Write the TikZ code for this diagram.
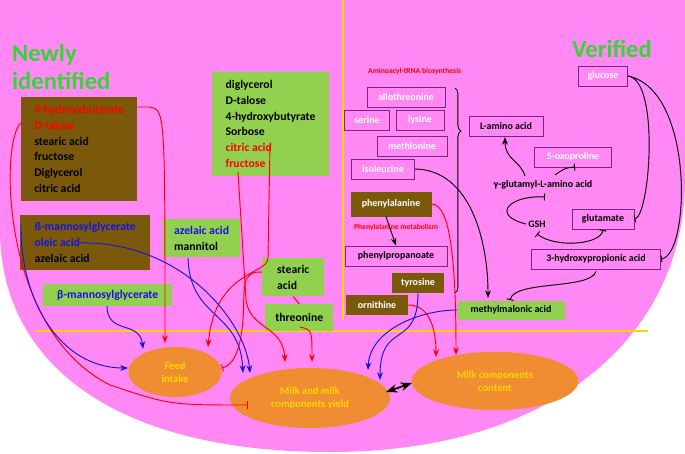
\documentclass[tikz,border=0pt]{standalone}
\usepackage{fontspec}
\setmainfont{Carlito}
\usetikzlibrary{arrows.meta,decorations.pathreplacing,shapes.geometric}
\definecolor{bgpink}{RGB}{255,136,245}
\definecolor{boxbrown}{RGB}{122,90,10}
\definecolor{boxgreen}{RGB}{146,208,80}
\definecolor{edgepurple}{RGB}{120,40,130}
\definecolor{lnblue}{RGB}{20,20,220}
\definecolor{lnyellow}{RGB}{255,215,0}
\definecolor{ellorange}{RGB}{240,140,50}
\definecolor{newgreen}{RGB}{50,215,50}
\begin{document}
\begin{tikzpicture}[x=0.03cm,y=-0.03cm,font=\bfseries,
	brownbox/.style={fill=boxbrown,anchor=north west,align=left,inner sep=2pt,font=\bfseries\fontsize{10}{13.5}\selectfont},
	greenbox/.style={fill=boxgreen,anchor=north west,align=left,inner sep=2pt,font=\bfseries\fontsize{10}{13.5}\selectfont},
	pinkbox/.style={draw=edgepurple,thick,fill=bgpink,text=white,inner sep=2pt,minimum height=0.6cm,font=\bfseries\fontsize{8.5}{10}\selectfont},
	effect/.style={ellipse,fill=ellorange,text=lnyellow,align=center,font=\bfseries\fontsize{9}{11}\selectfont},
	tag/.style={text=red,font=\bfseries\fontsize{6.5}{8}\selectfont},
	>=Stealth, bar/.style={-{Bar[width=6pt]}}]
	\useasboundingbox (0,0) rectangle (685,453);
	% background
	\fill[bgpink] (0,0) -- (685,0) -- (685,180) .. controls (685,330) and (560,452) .. (330,452)
		.. controls (110,452) and (0,360) .. (0,230) -- cycle;
	\draw[lnyellow,line width=1.2pt] (343,0) -- (343,320);
	\draw[lnyellow,line width=1.2pt] (35,331) -- (648,331);
	
	\node[text=newgreen,anchor=north west,align=left,font=\bfseries\fontsize{21}{24}\selectfont] (newly) at (8,40) {Newly\\identified};
	\node[text=newgreen,anchor=north west,font=\bfseries\fontsize{21}{24}\selectfont] (verified) at (568,36) {Verified};
	
	% left boxes
	\node[brownbox,minimum width=3.48cm,minimum height=3.1cm] (b1) at (21,97) {\textcolor{red}{4-hydroxybutyrate}\\\textcolor{red}{D-talose}\\stearic acid\\fructose\\Diglycerol\\citric acid};
	\node[brownbox,minimum width=3.9cm,minimum height=1.65cm] (b2) at (20,215) {\textcolor{lnblue}{ß-mannosylglycerate}\\\textcolor{lnblue}{oleic acid}\\azelaic acid};
	\node[greenbox,text=lnblue,minimum width=3.87cm,minimum height=0.66cm] (g1) at (43,284) {β-mannosylglycerate};
	\node[greenbox,minimum width=3.5cm,minimum height=3.1cm] (g2) at (212,72) {diglycerol\\D-talose\\4-hydroxybutyrate\\Sorbose\\\textcolor{red}{citric acid}\\\textcolor{red}{fructose}};
	\node[greenbox,minimum width=2.3cm,minimum height=1.14cm] (g3) at (163,219) {\textcolor{lnblue}{azelaic acid}\\mannitol};
	\node[greenbox,minimum width=1.86cm,minimum height=1.14cm] (g4) at (262,258) {stearic\\acid};
	\node[greenbox,minimum width=2.04cm,minimum height=0.81cm,anchor=north west] (g5) at (265,304) {threonine};
	
	% effects
	\node[effect,minimum width=2.8cm,minimum height=1.5cm] (feed) at (175,372) {Feed\\intake};
	\node[effect,minimum width=4.8cm,minimum height=1.8cm] (yield) at (310,398) {Milk and milk\\components yield};
	\node[effect,minimum width=5cm,minimum height=1.75cm] (content) at (495,381) {Milk components\\content};
	\draw[<->,line width=1.5pt] (386,392) -- (412,383);
	
	% right side
	\node[tag,anchor=west] (trna) at (364,71) {Aminoacyl-tRNA biosynthesis};
	\node[pinkbox,minimum width=2.34cm] (allo) at (406,97) {allothreonine};
	\node[pinkbox,minimum width=1.35cm] (ser) at (367,120) {serine};
	\node[pinkbox,minimum width=1.44cm] (lys) at (420,120) {lysine};
	\node[pinkbox,minimum width=2.1cm] (met) at (412,146) {methionine};
	\node[pinkbox,minimum width=1.9cm] (ile) at (383,169) {isoleucine};
	\draw[thick,decorate,decoration={brace,amplitude=5pt,aspect=0.21}] (455,88) -- (455,293);
	\node[pinkbox,text=black,minimum width=2.22cm] (laa) at (506,126) {L-amino acid};
	\node[pinkbox,minimum width=2.31cm] (oxo) at (573,157) {5-oxoproline};
	\node[font=\bfseries\fontsize{8.5}{10}\selectfont] (ggl) at (543,185) {γ-glutamyl-L-amino acid};
	\node[font=\bfseries\fontsize{8.5}{10}\selectfont] (gsh) at (537,224) {GSH};
	\node[pinkbox,text=black,minimum width=1.86cm] (glu) at (603,219) {glutamate};
	\node[pinkbox,text=black,minimum width=3.87cm] (hpa) at (596,259) {3-hydroxypropionic acid};
	\node[pinkbox,minimum width=1.47cm] (gluc) at (603,76) {glucose};
	\node[brownbox,text=white,anchor=center,minimum width=2.43cm,minimum height=0.75cm,font=\bfseries\fontsize{8.5}{10}\selectfont] (phe) at (391,204) {phenylalanine};
	\node[tag] (phemet) at (396,227) {Phenylalanine metabolism};
	\node[pinkbox,text=black,minimum width=3.06cm] (ppa) at (396,256) {phenylpropanoate};
	\node[brownbox,text=white,anchor=center,minimum width=1.56cm,minimum height=0.6cm,font=\bfseries\fontsize{8.5}{10}\selectfont] (tyr) at (418,283) {tyrosine};
	\node[brownbox,text=white,anchor=center,minimum width=1.86cm,minimum height=0.6cm,font=\bfseries\fontsize{8.5}{10}\selectfont] (orn) at (377,305) {ornithine};
	\node[greenbox,anchor=center,minimum width=3.21cm,minimum height=0.57cm,font=\bfseries\fontsize{8.5}{10}\selectfont] (mma) at (511,310) {methylmalonic acid};
	
	% red links
	\draw[red,thick,->] (b1.north east)++(0,10) -- ++(12,0) .. controls (165,110) .. (165,343);
	\draw[red,thick,bar] (b1.west)++(0,-26) .. controls (0,140) and (0,330) .. (110,385) .. controls (170,405) .. (248,405);
	\draw[red,thick,->] (270,145) -- (268,258) .. controls (268,275) and (215,270) .. (208,347);
	\draw[red,thick,->] (238,172) -- (246,300) .. controls (250,330) and (283,325) .. (285,362);
	\draw[red,thick,bar] (g4.west)++(0,-5) .. controls (240,270) and (245,290) .. (243,320) .. controls (240,355) and (232,365) .. (222,368);
	\draw[red,thick] (g4.south) -- (g5.north);
	\draw[red,thick,->] (300,327) .. controls (312,330) .. (312,362);
	\draw[red,thick,->] (phe.east) .. controls (445,205) and (456,230) .. (456,355);
	\draw[red,thick,->] (orn.east) .. controls (430,305) and (436,330) .. (436,357);
	% blue links
	\draw[lnblue,thick,->] (21,225) .. controls (20,300) and (60,368) .. (128,368);
	\draw[lnblue,thick,->] (78,243) .. controls (180,240) and (245,320) .. (250,373);
	\draw[lnblue,thick,->] (107,306) .. controls (107,335) and (140,320) .. (143,349);
	\draw[lnblue,thick,->] (188,258) .. controls (190,320) and (240,310) .. (243,373);
	\draw[lnblue,thick,->] (mma.west) .. controls (420,310) and (370,330) .. (368,370);
	\draw[lnblue,thick,->] (418,293) .. controls (418,350) and (380,320) .. (380,380);
	% black links
	\draw[thick,->] (ile.east) .. controls (470,170) and (488,240) .. (488,298);
	\draw[thick,->] (phe.south) ++(-5,0) -- (ppa.north);
	\draw[thick,bar] (hpa.south) ++(0,2) .. controls (590,290) and (515,280) .. (510,300);
	\draw[thick,bar] (gluc.east) .. controls (660,80) and (650,215) .. (glu.east);
	\draw[thick,bar] (gluc.east) .. controls (695,90) and (690,255) .. (hpa.east);
	\draw[thick,->] (525,176) .. controls (520,160) and (505,160) .. (505,137);
	\draw[thick,bar] (555,175) .. controls (565,168) .. (575,167);
	\draw[thick,bar] (526,224) .. controls (490,215) and (510,195) .. (545,197);
	\draw[thick,{Bar[width=6pt]}-{Bar[width=6pt]}] (537,234) .. controls (555,248) and (600,245) .. (603,230);
\end{tikzpicture}
\end{document}
